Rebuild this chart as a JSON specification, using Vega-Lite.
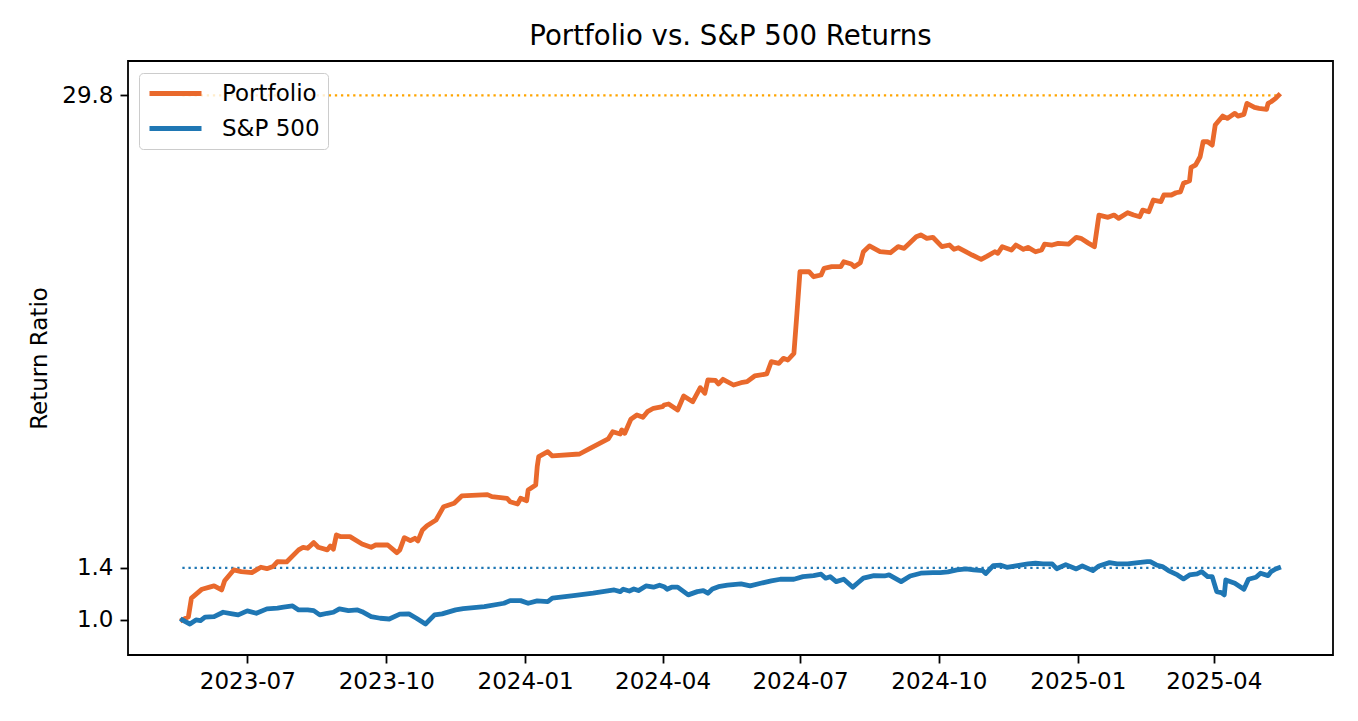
{
  "$schema": "https://vega.github.io/schema/vega-lite/v6.json",
  "autosize": {"type": "none"},
  "padding": {"left": 128, "top": 61, "right": 25, "bottom": 66},
  "width": 1205,
  "height": 594,
  "background": "white",
  "title": {"text": "Portfolio vs. S&P 500 Returns", "fontSize": 27.6, "font": "DejaVu Sans", "fontWeight": "normal", "color": "#000", "offset": 10, "anchor": "middle"},
  "config": {
    "view": {"stroke": "#000", "strokeWidth": 1.8},
    "axis": {"domain": false, "grid": false, "ticks": true, "tickSize": 8, "tickWidth": 1.8, "tickColor": "#000", "labelFont": "DejaVu Sans", "labelFontSize": 23, "labelColor": "#000", "labelPadding": 7, "titleFont": "DejaVu Sans", "titleFontSize": 23, "titleFontWeight": "normal", "titleColor": "#000"}
  },
  "datasets": {
    "lines": [
      {"series": "Portfolio", "date": "2023-05-19", "value": 1.0},
      {"series": "Portfolio", "date": "2023-05-23", "value": 1.02},
      {"series": "Portfolio", "date": "2023-05-25", "value": 1.151},
      {"series": "Portfolio", "date": "2023-06-01", "value": 1.22},
      {"series": "Portfolio", "date": "2023-06-06", "value": 1.236},
      {"series": "Portfolio", "date": "2023-06-09", "value": 1.246},
      {"series": "Portfolio", "date": "2023-06-14", "value": 1.214},
      {"series": "Portfolio", "date": "2023-06-16", "value": 1.289},
      {"series": "Portfolio", "date": "2023-06-22", "value": 1.382},
      {"series": "Portfolio", "date": "2023-06-27", "value": 1.367},
      {"series": "Portfolio", "date": "2023-07-04", "value": 1.358},
      {"series": "Portfolio", "date": "2023-07-10", "value": 1.406},
      {"series": "Portfolio", "date": "2023-07-14", "value": 1.393},
      {"series": "Portfolio", "date": "2023-07-18", "value": 1.412},
      {"series": "Portfolio", "date": "2023-07-21", "value": 1.458},
      {"series": "Portfolio", "date": "2023-07-27", "value": 1.455},
      {"series": "Portfolio", "date": "2023-08-04", "value": 1.573},
      {"series": "Portfolio", "date": "2023-08-07", "value": 1.6},
      {"series": "Portfolio", "date": "2023-08-10", "value": 1.59},
      {"series": "Portfolio", "date": "2023-08-14", "value": 1.649},
      {"series": "Portfolio", "date": "2023-08-17", "value": 1.6},
      {"series": "Portfolio", "date": "2023-08-23", "value": 1.573},
      {"series": "Portfolio", "date": "2023-08-25", "value": 1.614},
      {"series": "Portfolio", "date": "2023-08-27", "value": 1.58},
      {"series": "Portfolio", "date": "2023-08-29", "value": 1.733},
      {"series": "Portfolio", "date": "2023-09-01", "value": 1.714},
      {"series": "Portfolio", "date": "2023-09-07", "value": 1.714},
      {"series": "Portfolio", "date": "2023-09-15", "value": 1.635},
      {"series": "Portfolio", "date": "2023-09-21", "value": 1.6},
      {"series": "Portfolio", "date": "2023-09-24", "value": 1.624},
      {"series": "Portfolio", "date": "2023-10-02", "value": 1.624},
      {"series": "Portfolio", "date": "2023-10-08", "value": 1.545},
      {"series": "Portfolio", "date": "2023-10-10", "value": 1.573},
      {"series": "Portfolio", "date": "2023-10-13", "value": 1.703},
      {"series": "Portfolio", "date": "2023-10-17", "value": 1.67},
      {"series": "Portfolio", "date": "2023-10-20", "value": 1.696},
      {"series": "Portfolio", "date": "2023-10-22", "value": 1.667},
      {"series": "Portfolio", "date": "2023-10-25", "value": 1.79},
      {"series": "Portfolio", "date": "2023-10-28", "value": 1.84},
      {"series": "Portfolio", "date": "2023-11-03", "value": 1.909},
      {"series": "Portfolio", "date": "2023-11-08", "value": 2.081},
      {"series": "Portfolio", "date": "2023-11-15", "value": 2.127},
      {"series": "Portfolio", "date": "2023-11-20", "value": 2.23},
      {"series": "Portfolio", "date": "2023-12-07", "value": 2.249},
      {"series": "Portfolio", "date": "2023-12-10", "value": 2.22},
      {"series": "Portfolio", "date": "2023-12-20", "value": 2.197},
      {"series": "Portfolio", "date": "2023-12-22", "value": 2.149},
      {"series": "Portfolio", "date": "2023-12-27", "value": 2.118},
      {"series": "Portfolio", "date": "2023-12-29", "value": 2.197},
      {"series": "Portfolio", "date": "2024-01-02", "value": 2.163},
      {"series": "Portfolio", "date": "2024-01-03", "value": 2.318},
      {"series": "Portfolio", "date": "2024-01-08", "value": 2.395},
      {"series": "Portfolio", "date": "2024-01-09", "value": 2.695},
      {"series": "Portfolio", "date": "2024-01-10", "value": 2.876},
      {"series": "Portfolio", "date": "2024-01-16", "value": 2.97},
      {"series": "Portfolio", "date": "2024-01-19", "value": 2.889},
      {"series": "Portfolio", "date": "2024-02-06", "value": 2.926},
      {"series": "Portfolio", "date": "2024-02-13", "value": 3.036},
      {"series": "Portfolio", "date": "2024-02-25", "value": 3.225},
      {"series": "Portfolio", "date": "2024-02-28", "value": 3.38},
      {"series": "Portfolio", "date": "2024-03-04", "value": 3.331},
      {"series": "Portfolio", "date": "2024-03-05", "value": 3.418},
      {"series": "Portfolio", "date": "2024-03-07", "value": 3.346},
      {"series": "Portfolio", "date": "2024-03-11", "value": 3.663},
      {"series": "Portfolio", "date": "2024-03-15", "value": 3.766},
      {"series": "Portfolio", "date": "2024-03-19", "value": 3.71},
      {"series": "Portfolio", "date": "2024-03-22", "value": 3.847},
      {"series": "Portfolio", "date": "2024-03-26", "value": 3.933},
      {"series": "Portfolio", "date": "2024-04-01", "value": 3.974},
      {"series": "Portfolio", "date": "2024-04-02", "value": 4.018},
      {"series": "Portfolio", "date": "2024-04-05", "value": 4.044},
      {"series": "Portfolio", "date": "2024-04-11", "value": 3.89},
      {"series": "Portfolio", "date": "2024-04-15", "value": 4.258},
      {"series": "Portfolio", "date": "2024-04-21", "value": 4.104},
      {"series": "Portfolio", "date": "2024-04-26", "value": 4.493},
      {"series": "Portfolio", "date": "2024-04-29", "value": 4.333},
      {"series": "Portfolio", "date": "2024-05-01", "value": 4.723},
      {"series": "Portfolio", "date": "2024-05-06", "value": 4.71},
      {"series": "Portfolio", "date": "2024-05-08", "value": 4.602},
      {"series": "Portfolio", "date": "2024-05-11", "value": 4.744},
      {"series": "Portfolio", "date": "2024-05-18", "value": 4.572},
      {"series": "Portfolio", "date": "2024-05-23", "value": 4.641},
      {"series": "Portfolio", "date": "2024-05-27", "value": 4.671},
      {"series": "Portfolio", "date": "2024-06-01", "value": 4.847},
      {"series": "Portfolio", "date": "2024-06-09", "value": 4.91},
      {"series": "Portfolio", "date": "2024-06-12", "value": 5.316},
      {"series": "Portfolio", "date": "2024-06-17", "value": 5.261},
      {"series": "Portfolio", "date": "2024-06-20", "value": 5.434},
      {"series": "Portfolio", "date": "2024-06-23", "value": 5.375},
      {"series": "Portfolio", "date": "2024-06-27", "value": 5.613},
      {"series": "Portfolio", "date": "2024-06-29", "value": 7.27},
      {"series": "Portfolio", "date": "2024-07-01", "value": 9.515},
      {"series": "Portfolio", "date": "2024-07-07", "value": 9.515},
      {"series": "Portfolio", "date": "2024-07-10", "value": 9.213},
      {"series": "Portfolio", "date": "2024-07-15", "value": 9.315},
      {"series": "Portfolio", "date": "2024-07-17", "value": 9.728},
      {"series": "Portfolio", "date": "2024-07-22", "value": 9.83},
      {"series": "Portfolio", "date": "2024-07-28", "value": 9.83},
      {"series": "Portfolio", "date": "2024-07-30", "value": 10.15},
      {"series": "Portfolio", "date": "2024-08-04", "value": 10.0},
      {"series": "Portfolio", "date": "2024-08-06", "value": 9.83},
      {"series": "Portfolio", "date": "2024-08-10", "value": 10.085},
      {"series": "Portfolio", "date": "2024-08-12", "value": 10.83},
      {"series": "Portfolio", "date": "2024-08-16", "value": 11.24},
      {"series": "Portfolio", "date": "2024-08-23", "value": 10.83},
      {"series": "Portfolio", "date": "2024-08-30", "value": 10.76},
      {"series": "Portfolio", "date": "2024-09-04", "value": 11.19},
      {"series": "Portfolio", "date": "2024-09-08", "value": 11.07},
      {"series": "Portfolio", "date": "2024-09-11", "value": 11.38},
      {"series": "Portfolio", "date": "2024-09-16", "value": 11.93},
      {"series": "Portfolio", "date": "2024-09-19", "value": 12.07},
      {"series": "Portfolio", "date": "2024-09-23", "value": 11.81},
      {"series": "Portfolio", "date": "2024-09-27", "value": 11.89},
      {"series": "Portfolio", "date": "2024-10-03", "value": 11.19},
      {"series": "Portfolio", "date": "2024-10-08", "value": 11.31},
      {"series": "Portfolio", "date": "2024-10-11", "value": 11.0},
      {"series": "Portfolio", "date": "2024-10-14", "value": 11.11},
      {"series": "Portfolio", "date": "2024-10-20", "value": 10.76},
      {"series": "Portfolio", "date": "2024-10-23", "value": 10.6},
      {"series": "Portfolio", "date": "2024-10-29", "value": 10.31},
      {"series": "Portfolio", "date": "2024-11-02", "value": 10.53},
      {"series": "Portfolio", "date": "2024-11-07", "value": 10.83},
      {"series": "Portfolio", "date": "2024-11-09", "value": 10.72},
      {"series": "Portfolio", "date": "2024-11-12", "value": 11.19},
      {"series": "Portfolio", "date": "2024-11-18", "value": 10.95},
      {"series": "Portfolio", "date": "2024-11-21", "value": 11.31},
      {"series": "Portfolio", "date": "2024-11-26", "value": 11.0},
      {"series": "Portfolio", "date": "2024-11-29", "value": 11.14},
      {"series": "Portfolio", "date": "2024-12-04", "value": 10.83},
      {"series": "Portfolio", "date": "2024-12-08", "value": 10.95},
      {"series": "Portfolio", "date": "2024-12-10", "value": 11.38},
      {"series": "Portfolio", "date": "2024-12-15", "value": 11.31},
      {"series": "Portfolio", "date": "2024-12-19", "value": 11.43},
      {"series": "Portfolio", "date": "2024-12-26", "value": 11.38},
      {"series": "Portfolio", "date": "2024-12-31", "value": 11.89},
      {"series": "Portfolio", "date": "2025-01-03", "value": 11.81},
      {"series": "Portfolio", "date": "2025-01-08", "value": 11.45},
      {"series": "Portfolio", "date": "2025-01-12", "value": 11.19},
      {"series": "Portfolio", "date": "2025-01-15", "value": 13.73},
      {"series": "Portfolio", "date": "2025-01-21", "value": 13.53},
      {"series": "Portfolio", "date": "2025-01-25", "value": 13.73},
      {"series": "Portfolio", "date": "2025-01-28", "value": 13.44},
      {"series": "Portfolio", "date": "2025-02-03", "value": 13.94},
      {"series": "Portfolio", "date": "2025-02-07", "value": 13.73},
      {"series": "Portfolio", "date": "2025-02-11", "value": 13.58},
      {"series": "Portfolio", "date": "2025-02-13", "value": 14.18},
      {"series": "Portfolio", "date": "2025-02-17", "value": 14.03},
      {"series": "Portfolio", "date": "2025-02-20", "value": 15.13},
      {"series": "Portfolio", "date": "2025-02-25", "value": 14.97},
      {"series": "Portfolio", "date": "2025-02-27", "value": 15.63},
      {"series": "Portfolio", "date": "2025-03-04", "value": 15.63},
      {"series": "Portfolio", "date": "2025-03-07", "value": 15.86},
      {"series": "Portfolio", "date": "2025-03-10", "value": 15.96},
      {"series": "Portfolio", "date": "2025-03-12", "value": 16.86},
      {"series": "Portfolio", "date": "2025-03-16", "value": 17.14},
      {"series": "Portfolio", "date": "2025-03-17", "value": 18.7},
      {"series": "Portfolio", "date": "2025-03-20", "value": 18.98},
      {"series": "Portfolio", "date": "2025-03-23", "value": 20.02},
      {"series": "Portfolio", "date": "2025-03-25", "value": 22.06},
      {"series": "Portfolio", "date": "2025-03-28", "value": 22.06},
      {"series": "Portfolio", "date": "2025-03-31", "value": 21.59},
      {"series": "Portfolio", "date": "2025-04-02", "value": 24.58},
      {"series": "Portfolio", "date": "2025-04-07", "value": 26.05},
      {"series": "Portfolio", "date": "2025-04-10", "value": 25.66},
      {"series": "Portfolio", "date": "2025-04-15", "value": 26.51},
      {"series": "Portfolio", "date": "2025-04-17", "value": 26.05},
      {"series": "Portfolio", "date": "2025-04-21", "value": 26.34},
      {"series": "Portfolio", "date": "2025-04-23", "value": 28.28},
      {"series": "Portfolio", "date": "2025-04-28", "value": 27.56},
      {"series": "Portfolio", "date": "2025-05-01", "value": 27.38},
      {"series": "Portfolio", "date": "2025-05-06", "value": 27.2},
      {"series": "Portfolio", "date": "2025-05-07", "value": 28.28},
      {"series": "Portfolio", "date": "2025-05-09", "value": 28.58},
      {"series": "Portfolio", "date": "2025-05-12", "value": 29.21},
      {"series": "Portfolio", "date": "2025-05-14", "value": 29.8},
      {"series": "S&P 500", "date": "2023-05-19", "value": 1.0},
      {"series": "S&P 500", "date": "2023-05-21", "value": 0.989},
      {"series": "S&P 500", "date": "2023-05-24", "value": 0.974},
      {"series": "S&P 500", "date": "2023-05-28", "value": 1.0},
      {"series": "S&P 500", "date": "2023-05-31", "value": 0.995},
      {"series": "S&P 500", "date": "2023-06-03", "value": 1.018},
      {"series": "S&P 500", "date": "2023-06-09", "value": 1.021},
      {"series": "S&P 500", "date": "2023-06-15", "value": 1.051},
      {"series": "S&P 500", "date": "2023-06-21", "value": 1.04},
      {"series": "S&P 500", "date": "2023-06-25", "value": 1.033},
      {"series": "S&P 500", "date": "2023-07-01", "value": 1.06},
      {"series": "S&P 500", "date": "2023-07-07", "value": 1.044},
      {"series": "S&P 500", "date": "2023-07-14", "value": 1.074},
      {"series": "S&P 500", "date": "2023-07-21", "value": 1.079},
      {"series": "S&P 500", "date": "2023-07-25", "value": 1.086},
      {"series": "S&P 500", "date": "2023-07-31", "value": 1.095},
      {"series": "S&P 500", "date": "2023-08-04", "value": 1.067},
      {"series": "S&P 500", "date": "2023-08-10", "value": 1.067},
      {"series": "S&P 500", "date": "2023-08-14", "value": 1.062},
      {"series": "S&P 500", "date": "2023-08-18", "value": 1.033},
      {"series": "S&P 500", "date": "2023-08-23", "value": 1.044},
      {"series": "S&P 500", "date": "2023-08-27", "value": 1.051},
      {"series": "S&P 500", "date": "2023-08-31", "value": 1.074},
      {"series": "S&P 500", "date": "2023-09-06", "value": 1.062},
      {"series": "S&P 500", "date": "2023-09-12", "value": 1.067},
      {"series": "S&P 500", "date": "2023-09-15", "value": 1.055},
      {"series": "S&P 500", "date": "2023-09-21", "value": 1.022},
      {"series": "S&P 500", "date": "2023-09-27", "value": 1.011},
      {"series": "S&P 500", "date": "2023-10-03", "value": 1.006},
      {"series": "S&P 500", "date": "2023-10-10", "value": 1.038},
      {"series": "S&P 500", "date": "2023-10-16", "value": 1.04},
      {"series": "S&P 500", "date": "2023-10-21", "value": 1.011},
      {"series": "S&P 500", "date": "2023-10-27", "value": 0.974},
      {"series": "S&P 500", "date": "2023-11-02", "value": 1.033},
      {"series": "S&P 500", "date": "2023-11-07", "value": 1.04},
      {"series": "S&P 500", "date": "2023-11-16", "value": 1.067},
      {"series": "S&P 500", "date": "2023-11-21", "value": 1.076},
      {"series": "S&P 500", "date": "2023-12-05", "value": 1.09},
      {"series": "S&P 500", "date": "2023-12-18", "value": 1.114},
      {"series": "S&P 500", "date": "2023-12-22", "value": 1.133},
      {"series": "S&P 500", "date": "2023-12-29", "value": 1.133},
      {"series": "S&P 500", "date": "2024-01-03", "value": 1.114},
      {"series": "S&P 500", "date": "2024-01-09", "value": 1.131},
      {"series": "S&P 500", "date": "2024-01-16", "value": 1.126},
      {"series": "S&P 500", "date": "2024-01-19", "value": 1.151},
      {"series": "S&P 500", "date": "2024-02-02", "value": 1.17},
      {"series": "S&P 500", "date": "2024-02-15", "value": 1.189},
      {"series": "S&P 500", "date": "2024-02-29", "value": 1.214},
      {"series": "S&P 500", "date": "2024-03-04", "value": 1.201},
      {"series": "S&P 500", "date": "2024-03-06", "value": 1.22},
      {"series": "S&P 500", "date": "2024-03-10", "value": 1.206},
      {"series": "S&P 500", "date": "2024-03-13", "value": 1.222},
      {"series": "S&P 500", "date": "2024-03-16", "value": 1.209},
      {"series": "S&P 500", "date": "2024-03-21", "value": 1.246},
      {"series": "S&P 500", "date": "2024-03-26", "value": 1.236},
      {"series": "S&P 500", "date": "2024-03-30", "value": 1.252},
      {"series": "S&P 500", "date": "2024-04-02", "value": 1.24},
      {"series": "S&P 500", "date": "2024-04-04", "value": 1.22},
      {"series": "S&P 500", "date": "2024-04-07", "value": 1.236},
      {"series": "S&P 500", "date": "2024-04-11", "value": 1.236},
      {"series": "S&P 500", "date": "2024-04-18", "value": 1.176},
      {"series": "S&P 500", "date": "2024-04-24", "value": 1.201},
      {"series": "S&P 500", "date": "2024-04-28", "value": 1.209},
      {"series": "S&P 500", "date": "2024-05-01", "value": 1.189},
      {"series": "S&P 500", "date": "2024-05-04", "value": 1.222},
      {"series": "S&P 500", "date": "2024-05-08", "value": 1.24},
      {"series": "S&P 500", "date": "2024-05-14", "value": 1.252},
      {"series": "S&P 500", "date": "2024-05-23", "value": 1.262},
      {"series": "S&P 500", "date": "2024-05-29", "value": 1.246},
      {"series": "S&P 500", "date": "2024-06-05", "value": 1.268},
      {"series": "S&P 500", "date": "2024-06-12", "value": 1.287},
      {"series": "S&P 500", "date": "2024-06-18", "value": 1.301},
      {"series": "S&P 500", "date": "2024-06-27", "value": 1.301},
      {"series": "S&P 500", "date": "2024-07-03", "value": 1.323},
      {"series": "S&P 500", "date": "2024-07-10", "value": 1.332},
      {"series": "S&P 500", "date": "2024-07-15", "value": 1.344},
      {"series": "S&P 500", "date": "2024-07-18", "value": 1.31},
      {"series": "S&P 500", "date": "2024-07-21", "value": 1.323},
      {"series": "S&P 500", "date": "2024-07-25", "value": 1.281},
      {"series": "S&P 500", "date": "2024-07-30", "value": 1.301},
      {"series": "S&P 500", "date": "2024-08-05", "value": 1.236},
      {"series": "S&P 500", "date": "2024-08-08", "value": 1.268},
      {"series": "S&P 500", "date": "2024-08-12", "value": 1.31},
      {"series": "S&P 500", "date": "2024-08-19", "value": 1.332},
      {"series": "S&P 500", "date": "2024-08-26", "value": 1.329},
      {"series": "S&P 500", "date": "2024-08-29", "value": 1.338},
      {"series": "S&P 500", "date": "2024-09-06", "value": 1.281},
      {"series": "S&P 500", "date": "2024-09-12", "value": 1.329},
      {"series": "S&P 500", "date": "2024-09-19", "value": 1.353},
      {"series": "S&P 500", "date": "2024-09-27", "value": 1.358},
      {"series": "S&P 500", "date": "2024-10-02", "value": 1.358},
      {"series": "S&P 500", "date": "2024-10-07", "value": 1.364},
      {"series": "S&P 500", "date": "2024-10-13", "value": 1.382},
      {"series": "S&P 500", "date": "2024-10-19", "value": 1.391},
      {"series": "S&P 500", "date": "2024-10-24", "value": 1.382},
      {"series": "S&P 500", "date": "2024-10-30", "value": 1.376},
      {"series": "S&P 500", "date": "2024-11-01", "value": 1.35},
      {"series": "S&P 500", "date": "2024-11-06", "value": 1.421},
      {"series": "S&P 500", "date": "2024-11-11", "value": 1.425},
      {"series": "S&P 500", "date": "2024-11-15", "value": 1.406},
      {"series": "S&P 500", "date": "2024-11-22", "value": 1.421},
      {"series": "S&P 500", "date": "2024-11-29", "value": 1.437},
      {"series": "S&P 500", "date": "2024-12-04", "value": 1.443},
      {"series": "S&P 500", "date": "2024-12-09", "value": 1.437},
      {"series": "S&P 500", "date": "2024-12-15", "value": 1.437},
      {"series": "S&P 500", "date": "2024-12-18", "value": 1.393},
      {"series": "S&P 500", "date": "2024-12-24", "value": 1.43},
      {"series": "S&P 500", "date": "2024-12-31", "value": 1.391},
      {"series": "S&P 500", "date": "2025-01-04", "value": 1.418},
      {"series": "S&P 500", "date": "2025-01-11", "value": 1.376},
      {"series": "S&P 500", "date": "2025-01-15", "value": 1.418},
      {"series": "S&P 500", "date": "2025-01-22", "value": 1.449},
      {"series": "S&P 500", "date": "2025-01-27", "value": 1.437},
      {"series": "S&P 500", "date": "2025-02-03", "value": 1.437},
      {"series": "S&P 500", "date": "2025-02-10", "value": 1.449},
      {"series": "S&P 500", "date": "2025-02-16", "value": 1.458},
      {"series": "S&P 500", "date": "2025-02-18", "value": 1.458},
      {"series": "S&P 500", "date": "2025-02-22", "value": 1.427},
      {"series": "S&P 500", "date": "2025-02-26", "value": 1.412},
      {"series": "S&P 500", "date": "2025-03-02", "value": 1.376},
      {"series": "S&P 500", "date": "2025-03-08", "value": 1.338},
      {"series": "S&P 500", "date": "2025-03-12", "value": 1.304},
      {"series": "S&P 500", "date": "2025-03-16", "value": 1.338},
      {"series": "S&P 500", "date": "2025-03-21", "value": 1.347},
      {"series": "S&P 500", "date": "2025-03-24", "value": 1.367},
      {"series": "S&P 500", "date": "2025-03-28", "value": 1.323},
      {"series": "S&P 500", "date": "2025-03-31", "value": 1.323},
      {"series": "S&P 500", "date": "2025-04-03", "value": 1.201},
      {"series": "S&P 500", "date": "2025-04-06", "value": 1.193},
      {"series": "S&P 500", "date": "2025-04-08", "value": 1.176},
      {"series": "S&P 500", "date": "2025-04-09", "value": 1.295},
      {"series": "S&P 500", "date": "2025-04-15", "value": 1.268},
      {"series": "S&P 500", "date": "2025-04-21", "value": 1.22},
      {"series": "S&P 500", "date": "2025-04-24", "value": 1.301},
      {"series": "S&P 500", "date": "2025-04-29", "value": 1.318},
      {"series": "S&P 500", "date": "2025-05-02", "value": 1.353},
      {"series": "S&P 500", "date": "2025-05-07", "value": 1.332},
      {"series": "S&P 500", "date": "2025-05-09", "value": 1.367},
      {"series": "S&P 500", "date": "2025-05-12", "value": 1.39},
      {"series": "S&P 500", "date": "2025-05-14", "value": 1.4}
    ]
  },
  "layer": [
    {
      "data": {"values": [{"start": "2023-05-19", "end": "2025-05-14", "level": 29.8}]},
      "mark": {"type": "rule", "color": "#ffa500", "strokeWidth": 2.3, "strokeDash": [2.3, 3.8]},
      "encoding": {
        "x": {"field": "start", "type": "temporal", "title": null},
        "x2": {"field": "end"},
        "y": {"field": "level", "type": "quantitative", "title": "Return Ratio"}
      }
    },
    {
      "data": {"values": [{"start": "2023-05-19", "end": "2025-05-14", "level": 1.4}]},
      "mark": {"type": "rule", "color": "#1f77b4", "strokeWidth": 2.3, "strokeDash": [2.3, 3.8]},
      "encoding": {
        "x": {"field": "start", "type": "temporal", "title": null},
        "x2": {"field": "end"},
        "y": {"field": "level", "type": "quantitative", "title": "Return Ratio"}
      }
    },
    {
      "data": {"name": "lines"},
      "mark": {"type": "line", "strokeWidth": 4.8, "strokeJoin": "round", "strokeCap": "square"},
      "encoding": {
        "x": {
          "field": "date", "type": "temporal", "title": null,
          "scale": {"type": "utc", "domain": [{"year": 2023, "month": 4, "date": 13, "utc": true}, {"year": 2025, "month": 6, "date": 19, "utc": true}]},
          "axis": {
            "format": "%Y-%m", "labelOverlap": false, "labelFlush": false,
            "values": [
              {"year": 2023, "month": 7, "date": 1, "utc": true},
              {"year": 2023, "month": 10, "date": 1, "utc": true},
              {"year": 2024, "month": 1, "date": 1, "utc": true},
              {"year": 2024, "month": 4, "date": 1, "utc": true},
              {"year": 2024, "month": 7, "date": 1, "utc": true},
              {"year": 2024, "month": 10, "date": 1, "utc": true},
              {"year": 2025, "month": 1, "date": 1, "utc": true},
              {"year": 2025, "month": 4, "date": 1, "utc": true}
            ]
          }
        },
        "y": {
          "field": "value", "type": "quantitative", "title": "Return Ratio",
          "scale": {"type": "log", "domain": [0.797, 37.2], "nice": false, "zero": false},
          "axis": {"values": [1.0, 1.4, 29.8], "format": ".1f", "labelOverlap": false, "titlePadding": 10}
        },
        "color": {
          "field": "series", "type": "nominal",
          "scale": {"domain": ["Portfolio", "S&P 500"], "range": ["#e9692c", "#1f77b4"]},
          "legend": {"title": null, "orient": "none", "legendX": 11, "legendY": 12, "symbolType": "stroke", "symbolSize": 2704, "symbolStrokeWidth": 4.8, "labelFontSize": 23, "labelFont": "DejaVu Sans", "labelColor": "#000", "labelOffset": 18, "clipHeight": 25, "rowPadding": 10, "padding": 8, "strokeColor": "#cccccc", "fillColor": "rgba(255,255,255,0.8)", "cornerRadius": 4}
        }
      }
    }
  ]
}
